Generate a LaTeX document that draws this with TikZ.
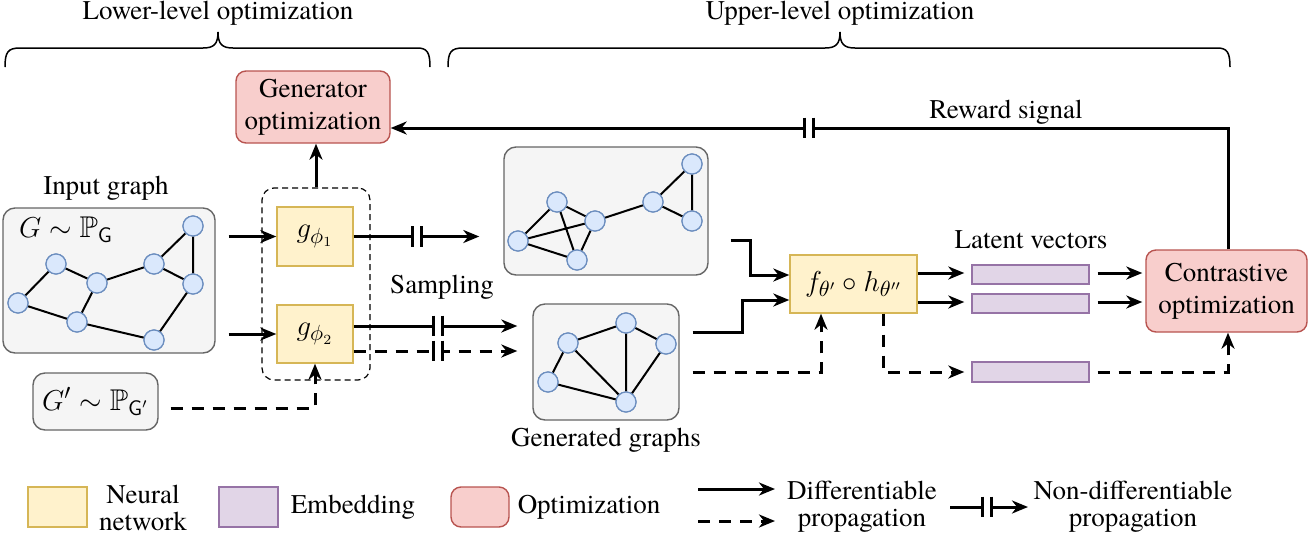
\documentclass[tikz,border=0pt]{standalone}
\usepackage{amssymb}
\usepackage{fontspec}
\IfFontExistsTF{texgyretermes-regular.otf}{\setmainfont{texgyretermes-regular.otf}}{\setmainfont{Liberation Serif}}
\usetikzlibrary{arrows.meta,calc}
\definecolor{yfill}{HTML}{FFF2CC}
\definecolor{ydraw}{HTML}{D6B656}
\definecolor{pfill}{HTML}{E1D5E7}
\definecolor{pdraw}{HTML}{9673A6}
\definecolor{rfill}{HTML}{F8CECC}
\definecolor{rdraw}{HTML}{B85450}
\definecolor{gfill}{HTML}{F5F5F5}
\definecolor{gdraw}{HTML}{666666}
\definecolor{vfill}{HTML}{DAE8FC}
\definecolor{vdraw}{HTML}{6C8EBF}
\begin{document}
\begin{tikzpicture}[x=0.5pt,y=-0.5pt,
  font=\fontsize{13.5}{16}\selectfont,
  ybox/.style={draw=ydraw,fill=yfill,line width=0.7pt,inner sep=0pt},
  pbox/.style={draw=pdraw,fill=pfill,line width=0.7pt,inner sep=0pt},
  rbox/.style={draw=rdraw,fill=rfill,line width=0.7pt,rounded corners=5pt,inner sep=0pt,align=center},
  gbox/.style={draw=gdraw,fill=gfill,line width=0.7pt,rounded corners=6pt,inner sep=0pt},
  dbox/.style={draw=black,dash pattern=on 3pt off 2pt,line width=0.6pt,rounded corners=6pt,inner sep=0pt},
  vtx/.style={circle,draw=vdraw,fill=vfill,line width=0.6pt,minimum size=10pt,inner sep=0pt},
  gedge/.style={line width=1pt},
  arr/.style={line width=1.5pt,-{Stealth[length=8pt,width=6.5pt,inset=2.5pt]}},
  darr/.style={arr,dash pattern=on 6pt off 4.5pt},
  nd/.style={fill=white,inner sep=0pt,minimum width=4pt,minimum height=10pt},
  barline/.style={line width=1.5pt},
  brace/.style={line width=0.75pt},
  mth/.style={font=\fontsize{15}{17}\selectfont}
]
\useasboundingbox (0,0) rectangle (1314,537);

% braces and titles
\draw[brace] (5,67) .. controls (5,52) and (8,48) .. (20,48) -- (203,48) .. controls (214,48) and (218,44) .. (218,32) .. controls (218,44) and (222,48) .. (233,48) -- (417,48) .. controls (427,48) and (430,52) .. (430,67);
\draw[brace] (448,67) .. controls (448,52) and (451,48) .. (463,48) -- (825,48) .. controls (836,48) and (840,44) .. (840,32) .. controls (840,44) and (844,48) .. (855,48) -- (1217,48) .. controls (1227,48) and (1230,52) .. (1230,67);
\node (tlow) at (218,13) {Lower-level optimization};
\node (tup) at (840,13) {Upper-level optimization};

% main boxes
\node[rbox,minimum width=77pt,minimum height=36pt] (gen) at (313,107) {Generator\\optimization};
\node[dbox,minimum width=54pt,minimum height=96pt] (cont) at (316,284) {};
\node[ybox,mth,minimum width=38pt,minimum height=29.5pt] (g1) at (315,236.5) {$g_{\phi_1}$};
\node[ybox,mth,minimum width=38pt,minimum height=29pt] (g2) at (315,334) {$g_{\phi_2}$};
\node[gbox,minimum width=106pt,minimum height=72.5pt] (inp) at (109,280.5) {};
\node (inlab) at (106,188) {Input graph};
\node[mth] (glab) at (66,230) {$G\sim\mathbb{P}_{\mathsf{G}}$};
\node[gbox,mth,minimum width=62.5pt,minimum height=28.5pt] (gp) at (95.5,401.5) {$G'\sim\mathbb{P}_{\mathsf{G}'}$};
\node[gbox,minimum width=102pt,minimum height=64pt] (gg1) at (606,211) {};
\node[gbox,minimum width=73pt,minimum height=58pt] (gg2) at (606,362) {};
\node (gglab) at (606,440) {Generated graphs};
\node (samp) at (442,287) {Sampling};
\node[ybox,mth,minimum width=63.5pt,minimum height=29pt] (f) at (853.5,284) {$f_{\theta'}\circ h_{\theta''}$};
\node[pbox,minimum width=58.5pt,minimum height=9.5pt] (e1) at (1030.5,274.5) {};
\node[pbox,minimum width=58.5pt,minimum height=9.5pt] (e2) at (1030.5,303.5) {};
\node[pbox,minimum width=58.5pt,minimum height=10pt] (e3) at (1030.5,372) {};
\node (lat) at (1031,240) {Latent vectors};
\node[rbox,minimum width=80.5pt,minimum height=41pt] (co) at (1226.5,291) {Contrastive\\optimization};
\node (rew) at (1006,112) {Reward signal};

% input graph
\node[vtx] (a1) at (193,226) {};
\node[vtx] (a2) at (56,264) {};
\node[vtx] (a3) at (97,283) {};
\node[vtx] (a4) at (154,264) {};
\node[vtx] (a5) at (193,284) {};
\node[vtx] (a6) at (18,303) {};
\node[vtx] (a7) at (77,322) {};
\node[vtx] (a8) at (154,340) {};
\draw[gedge] (a1)--(a4) (a1)--(a5) (a4)--(a5) (a4)--(a3) (a2)--(a3) (a2)--(a6) (a3)--(a7) (a6)--(a7) (a7)--(a8) (a8)--(a5);
\foreach \v in {a1,a2,a3,a4,a5,a6,a7,a8} \node[vtx] at (\v) {};

% generated graph 1
\node[vtx] (b1) at (557,202) {};
\node[vtx] (b2) at (595,221) {};
\node[vtx] (b3) at (518,241) {};
\node[vtx] (b4) at (577,260) {};
\node[vtx] (b5) at (653,202) {};
\node[vtx] (b6) at (692,164) {};
\node[vtx] (b7) at (692,221) {};
\draw[gedge] (b1)--(b2) (b1)--(b3) (b1)--(b4) (b3)--(b2) (b3)--(b4) (b2)--(b4) (b2)--(b5) (b5)--(b6) (b5)--(b7) (b6)--(b7);
\foreach \v in {b1,b2,b3,b4,b5,b6,b7} \node[vtx] at (\v) {};

% generated graph 2
\node[vtx] (c1) at (568,343) {};
\node[vtx] (c2) at (626,323) {};
\node[vtx] (c3) at (666,344) {};
\node[vtx] (c4) at (548,382) {};
\node[vtx] (c5) at (626,402) {};
\draw[gedge] (c1)--(c2) (c2)--(c3) (c2)--(c5) (c1)--(c5) (c1)--(c4) (c4)--(c5) (c3)--(c5);
\foreach \v in {c1,c2,c3,c4,c5} \node[vtx] at (\v) {};

% connectors
\draw[arr] (cont.north) -- (cont.north |- gen.south);
\draw[arr] ($(inp.east|-g1.west)+(13,0)$) -- (g1.west);
\draw[arr] ($(inp.east|-g2.west)+(13,0)$) -- (g2.west);
\draw[darr] ($(gp.east)+(12,6.5)$) -| (g2.south);
\draw[arr] (g1.east) -- ($(gg1.west|-g1.east)+(-24,0)$);
\node[nd] (n1) at (417,236.5) {};
\draw[arr] ($(g2.east)+(0,-8)$) -- ($(gg2.west|-g2.east)+(-15,-8)$);
\node[nd] (n2) at (438,326) {};
\draw[darr] ($(g2.east)+(0,17)$) -- ($(gg2.west|-g2.east)+(-15,17)$);
\node[nd] (n3) at (438,351) {};
\draw[arr] ($(gg1.east)+(22,29)$) -- ++(20,0) |- ($(f.west)+(0,-9)$);
\draw[arr] ($(gg2.east)+(13,-30)$) -- ++(50,0) |- ($(f.west)+(0,16)$);
\draw[darr] ($(gg2.east)+(13,10)$) -| ($(f.south)+(-32.5,0)$);
\draw[arr,shorten >=3.5pt] ($(f.east|-e1.west)+(0,-1.5)$) -- ($(e1.west)+(0,-1.5)$);
\draw[arr,shorten >=3.5pt] ($(f.east|-e2.west)+(0,-1.5)$) -- ($(e2.west)+(0,-1.5)$);
\draw[darr,shorten >=3.5pt] ($(f.south east)+(-34,0)$) |- (e3.west);
\draw[arr,shorten >=1.5pt] ($(e1.east)+(8,-1.5)$) -- ($(co.west|-e1.east)+(0,-1.5)$);
\draw[arr,shorten >=1.5pt] ($(e2.east)+(8,-1.5)$) -- ($(co.west|-e2.east)+(0,-1.5)$);
\draw[darr] ($(e3.east)+(8,0)$) -| ($(co.south)+(1.5,0)$);
\draw[arr] ($(co.north)+(1.5,0)$) |- ($(gen.east)+(0,21)$);
\node[nd] (n4) at (809,128) {};
\foreach \b in {n1,n2,n3,n4}
  \draw[barline] (\b.north west)--(\b.south west) (\b.north east)--(\b.south east);

% legend
\node[ybox,minimum width=29.5pt,minimum height=20pt] (ly) at (57.5,507) {};
\node[align=center,font=\fontsize{13.5}{13.5}\selectfont] (lyt) at (143,508) {Neural\\network};
\node[pbox,minimum width=29.5pt,minimum height=20pt] (lp) at (248.5,507) {};
\node (lpt) at (353,507) {Embedding};
\node[rbox,minimum width=29pt,minimum height=20pt] (lr) at (480,507) {};
\node (lrt) at (589,507) {Optimization};
\coordinate (s1) at (698,489);
\coordinate (s2) at (775,489);
\coordinate (d1) at (698,521);
\coordinate (d2) at (775,521);
\draw[arr] (s1) -- (s2);
\draw[darr] (d1) -- (d2);
\node[align=center,font=\fontsize{13.5}{13.5}\selectfont] (ldt) at (862,507) {Differentiable\\propagation};
\coordinate (u1) at (950,507);
\coordinate (u2) at (1028,507);
\draw[arr] (u1) -- (u2);
\node[nd] (n5) at (987,507) {};
\draw[barline] (n5.north west)--(n5.south west) (n5.north east)--(n5.south east);
\node[align=center,font=\fontsize{13.5}{13.5}\selectfont] (lnt) at (1133,507) {Non-differentiable\\propagation};
\end{tikzpicture}
\end{document}
